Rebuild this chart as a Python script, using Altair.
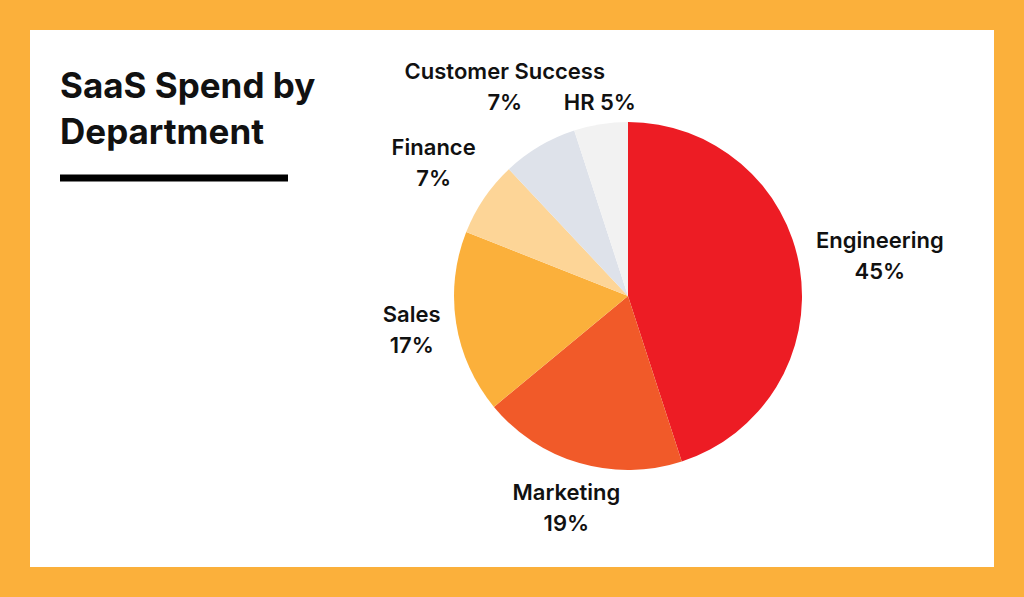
import altair as alt
import pandas as pd

departments = ["Engineering", "Marketing", "Sales", "Finance", "Customer Success", "HR"]
shares = [45, 19, 17, 7, 7, 5]
colors = ["#ED1C24", "#F15A29", "#FBB03B", "#FDD597", "#DEE2EA", "#F2F2F2"]
label_text = ["Engineering\n45%", "Marketing\n19%", "Sales\n17%", "Finance\n7%",
              "Customer Success\n7%", "HR 5%"]
# label distance from pie centre (layout)
label_radius = [255, 221, 219, 235, 242, 180]

df = pd.DataFrame({
    "dept": departments,
    "share": shares,
    "idx": list(range(len(departments))),
    "label": label_text,
    "lr": label_radius,
})

W, H = 964, 537
CX, CY = 598, 266
FONT = "Inter"
LH = 31

pie = alt.Chart(df).mark_arc(outerRadius=174, stroke=None).encode(
    theta=alt.Theta("share:Q", stack=True),
    order=alt.Order("idx:Q"),
    x=alt.value(CX), y=alt.value(CY),
    color=alt.Color("dept:N", scale=alt.Scale(domain=departments, range=colors), legend=None),
)

labels = alt.Chart(df).transform_window(
    cum="sum(share)", sort=[alt.SortField("idx")], frame=[None, 0]
).transform_calculate(
    mid="datum.cum - datum.share / 2"
).mark_text(
    font=FONT, fontSize=22, fontWeight=600, color="#111111",
    lineBreak="\n", lineHeight=LH, align="center", baseline="middle", dy=-LH / 2,
).encode(
    theta=alt.Theta("mid:Q", stack=None, scale=alt.Scale(domain=[0, 100])),
    x=alt.value(CX), y=alt.value(CY),
    radius=alt.Radius("lr:Q", scale=None),
    text="label:N",
)

title_df = pd.DataFrame({"t": ["SaaS Spend by\nDepartment"]})
title = alt.Chart(title_df).mark_text(
    font=FONT, fontSize=35, fontWeight=700, color="#111111",
    lineBreak="\n", lineHeight=46, align="left", baseline="top",
).encode(x=alt.value(30), y=alt.value(40), text="t:N")

underline = alt.Chart(title_df).mark_rule(color="#000000", strokeWidth=7).encode(
    x=alt.value(30), x2=alt.value(258), y=alt.value(148)
)

chart = alt.layer(pie, labels, title, underline).resolve_scale(theta="independent").properties(
    width=W, height=H, background="#FBB03B",
    padding={"left": 30, "right": 30, "top": 30, "bottom": 30},
    autosize=alt.AutoSizeParams(type="none"),
).configure_view(fill="#FFFFFF", stroke=None)

chart.save("out.html", embed_options={"renderer": "svg", "actions": False})
